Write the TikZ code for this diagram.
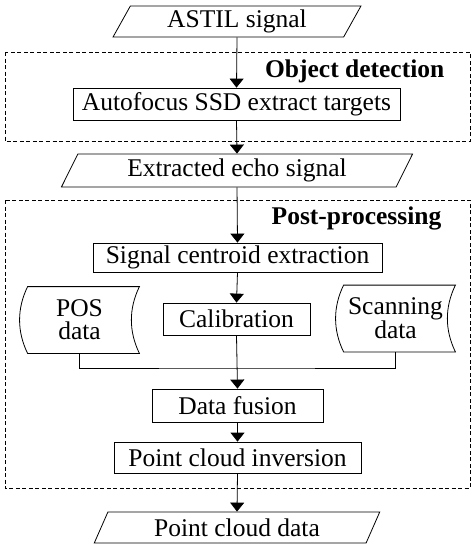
\documentclass[tikz,border=0pt]{standalone}
\usepackage{fontspec}
\setmainfont{Liberation Serif}
\usetikzlibrary{shapes.geometric,arrows.meta}
\begin{document}
\begin{tikzpicture}[x=1pt, y=1pt, line width=0.8pt,
  font=\fontsize{25.5}{23}\selectfont,
  io/.style={trapezium, trapezium left angle=64, trapezium right angle=116,
    trapezium stretches=true, draw, inner sep=0pt},
  proc/.style={rectangle, draw, inner sep=0pt},
  store/.style={rectangle, align=center, inner sep=0pt, minimum width=111pt, minimum height=66pt},
  group/.style={draw, dash pattern=on 4pt off 2.5pt, line width=0.7pt},
  title/.style={anchor=east, font=\fontsize{25.5}{25}\selectfont\bfseries},
  flow/.style={-{Triangle[width=14pt,length=9pt]}}]
\useasboundingbox (0,0) rectangle (475,-550);
\draw[group] (5,-52) rectangle (470,-141);
\draw[group] (5,-200) rectangle (470,-488);
\node[title] (objdet) at (448,-71) {Object detection};
\node[title] (postproc) at (445,-218) {Post-processing};
\node[io, minimum width=248pt, minimum height=31pt] (astil) at (237,-21.5) {ASTIL signal};
\node[proc, minimum width=327pt, minimum height=32pt] (ssd) at (236.5,-104) {Autofocus SSD extract targets};
\node[io, minimum width=352pt, minimum height=33pt] (echo) at (237,-170.5) {Extracted echo signal};
\node[proc, minimum width=289pt, minimum height=29pt] (centroid) at (237.5,-257.5) {Signal centroid extraction};
\node[proc, minimum width=147pt, minimum height=32pt] (calib) at (236.5,-319) {Calibration};
\node[store] (pos) at (79.5,-320) {POS\\data};
\node[store] (scan) at (395.5,-318.5) {Scanning\\data};
\node[proc, minimum width=171pt, minimum height=33pt] (fusion) at (237.5,-405.5) {Data fusion};
\node[proc, minimum width=247pt, minimum height=31pt] (inversion) at (237.5,-457.5) {Point cloud inversion};
\node[io, minimum width=286pt, minimum height=31pt] (pcd) at (237,-527.5) {Point cloud data};
\coordinate (join) at (calib.south |- 0,-368);
\foreach \n in {pos,scan}
  \draw ([xshift=4pt]\n.north west) -- ([xshift=4pt]\n.north east)
    .. controls +(-10.7,-22) and +(-10.7,22) .. ([xshift=4pt]\n.south east)
    -- ([xshift=4pt]\n.south west)
    .. controls +(-10.7,22) and +(-10.7,-22) .. ([xshift=4pt]\n.north west) -- cycle;
\draw[flow] (astil.south) -- (ssd.north);
\draw[flow] (ssd.south) -- (echo.north);
\draw[flow] (echo.south) -- (centroid.north);
\draw[flow] (centroid.south) -- (calib.north);
\draw[flow] (calib.south) -- (fusion.north);
\draw (pos.south) |- (join) -| (scan.south);
\draw[flow] (fusion.south) -- (inversion.north);
\draw[flow] (inversion.south) -- (pcd.north);
\end{tikzpicture}
\end{document}
